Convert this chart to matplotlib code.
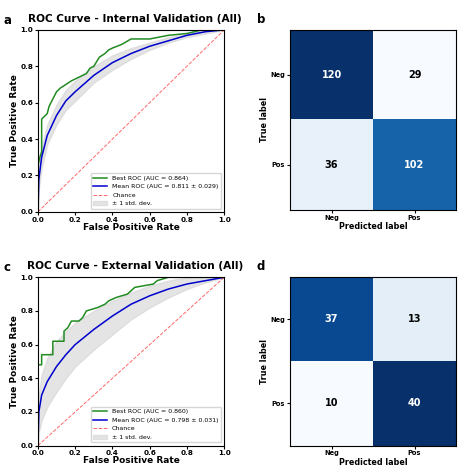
import numpy as np
import matplotlib.pyplot as plt

# --- DATA ---
base_fpr = [0, 0.005, 0.02, 0.05, 0.1, 0.15, 0.2, 0.3, 0.4, 0.5, 0.6, 0.7, 0.8, 0.9, 1.0]

int_best_fpr = [0, 0, 0.01, 0.02, 0.02, 0.03, 0.05, 0.06, 0.08, 0.1, 0.12, 0.15, 0.18, 0.22, 0.26,
                0.28, 0.3, 0.33, 0.36, 0.38, 0.4, 0.45, 0.5, 0.6, 0.65, 0.7, 0.8, 0.88, 1.0]
int_best_tpr = [0, 0.25, 0.3, 0.33, 0.51, 0.52, 0.54, 0.58, 0.62, 0.66, 0.68, 0.7, 0.72, 0.74, 0.76,
                0.79, 0.8, 0.85, 0.87, 0.89, 0.9, 0.92, 0.95, 0.95, 0.96, 0.97, 0.98, 1.0, 1.0]
int_mean_tpr = [0, 0.18, 0.3, 0.42, 0.53, 0.61, 0.66, 0.75, 0.82, 0.87, 0.91, 0.94, 0.97, 0.99, 1.0]
int_low_tpr = [0, 0.13, 0.24, 0.37, 0.48, 0.56, 0.61, 0.71, 0.78, 0.84, 0.89, 0.93, 0.96, 0.98, 1.0]
int_up_tpr = [0, 0.23, 0.36, 0.48, 0.59, 0.67, 0.72, 0.8, 0.86, 0.9, 0.93, 0.96, 0.98, 1.0, 1.0]

ext_best_fpr = [0, 0, 0.02, 0.02, 0.08, 0.08, 0.14, 0.14, 0.16, 0.18, 0.22, 0.24, 0.26, 0.32, 0.36,
                0.38, 0.42, 0.48, 0.52, 0.62, 0.64, 0.7, 1.0]
ext_best_tpr = [0, 0.48, 0.48, 0.54, 0.54, 0.62, 0.62, 0.68, 0.7, 0.74, 0.74, 0.76, 0.8, 0.82, 0.84,
                0.86, 0.88, 0.9, 0.94, 0.96, 0.98, 1.0, 1.0]
ext_mean_tpr = [0, 0.2, 0.3, 0.38, 0.47, 0.54, 0.6, 0.69, 0.77, 0.84, 0.89, 0.93, 0.96, 0.98, 1.0]
ext_low_tpr = [0, 0.08, 0.15, 0.23, 0.32, 0.4, 0.47, 0.57, 0.66, 0.75, 0.82, 0.88, 0.93, 0.97, 1.0]
ext_up_tpr = [0, 0.3, 0.42, 0.52, 0.62, 0.68, 0.73, 0.8, 0.86, 0.91, 0.95, 0.98, 1.0, 1.0, 1.0]

int_auc = (0.864, 0.811, 0.029)
ext_auc = (0.860, 0.798, 0.031)

class_names = ["Neg", "Pos"]
int_cm = np.array([[120, 29], [36, 102]])
ext_cm = np.array([[37, 13], [10, 40]])

fig = plt.figure(figsize=(4.74, 4.74), dpi=100)


def roc_panel(rect, letter, title, best_fpr, best_tpr, mean_tpr, low_tpr, up_tpr, auc):
    ax = fig.add_axes(rect)
    ax.fill_between(base_fpr, low_tpr, up_tpr, color="lightgrey", alpha=0.6, label="± 1 std. dev.")
    ax.plot(best_fpr, best_tpr, color="forestgreen", lw=1.1, label=f"Best ROC (AUC = {auc[0]:.3f})")
    ax.plot(base_fpr, mean_tpr, color="mediumblue", lw=1.1,
            label=f"Mean ROC (AUC = {auc[1]:.3f} ± {auc[2]:.3f})")
    ax.plot([0, 1], [0, 1], "--", color="red", alpha=0.6, lw=0.7, label="Chance")
    h, l = ax.get_legend_handles_labels()
    order = [1, 2, 3, 0]
    ax.legend([h[i] for i in order], [l[i] for i in order], loc="lower right", fontsize=4.5,
              framealpha=0.8, handlelength=2.2)
    ax.set_xlim(0, 1)
    ax.set_ylim(0, 1)
    ax.set_xticks(np.arange(0, 1.01, 0.2))
    ax.set_yticks(np.arange(0, 1.01, 0.2))
    ax.tick_params(labelsize=5.2, length=2, pad=1.5)
    for t in ax.get_xticklabels() + ax.get_yticklabels():
        t.set_fontweight("bold")
    ax.set_xlabel("False Positive Rate", fontsize=6.5, fontweight="bold", labelpad=0)
    ax.set_ylabel("True Positive Rate", fontsize=6.5, fontweight="bold", labelpad=1)
    ax.set_title(title, fontsize=7.6, fontweight="bold", pad=6, x=0.52)
    fig.text(0.008, rect[1] + rect[3] + 0.013, letter, fontsize=8.5, fontweight="bold")


def cm_panel(rect, letter, cm):
    ax = fig.add_axes(rect)
    ax.imshow(cm, cmap="Blues", aspect="auto")
    thresh = cm.max() / 2
    for i in range(2):
        for j in range(2):
            ax.text(j, i, str(cm[i, j]), ha="center", va="center", fontsize=7, fontweight="bold",
                    color="white" if cm[i, j] > thresh else "black")
    ax.set_xticks([0, 1])
    ax.set_yticks([0, 1])
    ax.set_xticklabels(class_names, fontsize=4.8, fontweight="bold")
    ax.set_yticklabels(class_names, fontsize=4.8, fontweight="bold")
    ax.tick_params(length=2, pad=1.5)
    ax.set_xlabel("Predicted label", fontsize=5.8, fontweight="bold", labelpad=1)
    ax.set_ylabel("True label", fontsize=5.8, fontweight="bold", labelpad=1)
    fig.text(rect[0] - 0.07, rect[1] + rect[3] + 0.015, letter, fontsize=8.5, fontweight="bold")


roc_panel([0.08, 0.553, 0.393, 0.384], "a", "ROC Curve - Internal Validation (All)",
          int_best_fpr, int_best_tpr, int_mean_tpr, int_low_tpr, int_up_tpr, int_auc)
cm_panel([0.612, 0.557, 0.35, 0.38], "b", int_cm)
roc_panel([0.08, 0.06, 0.393, 0.355], "c", "ROC Curve - External Validation (All)",
          ext_best_fpr, ext_best_tpr, ext_mean_tpr, ext_low_tpr, ext_up_tpr, ext_auc)
cm_panel([0.612, 0.06, 0.35, 0.355], "d", ext_cm)

fig.savefig("out.png", dpi=100)
